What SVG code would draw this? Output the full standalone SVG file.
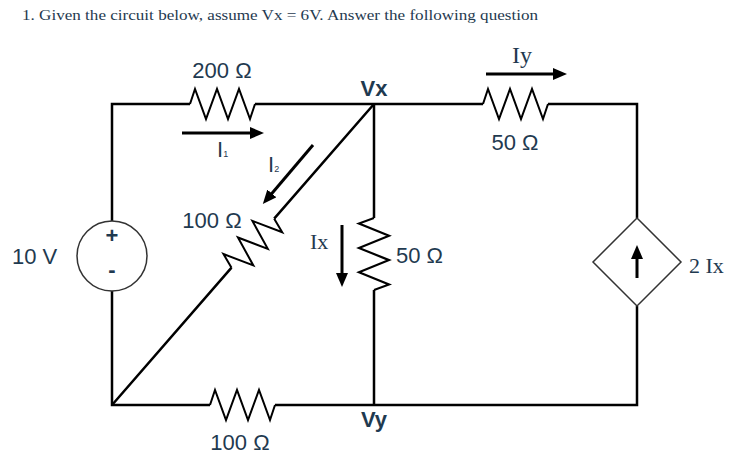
<svg xmlns="http://www.w3.org/2000/svg" width="752" height="470" viewBox="0 0 752 470">
<defs>
<style>
.w{stroke:#000;stroke-width:2.5;fill:none}
.z{stroke:#000;stroke-width:2;fill:none;stroke-linejoin:miter}
.l{font-family:"Liberation Sans",Arial,sans-serif;font-size:22px;fill:#1f3a50}
.s{font-family:"Liberation Serif","Times New Roman",serif;fill:#1f3a50}
.a{stroke:#000;stroke-width:3;fill:none;marker-end:url(#ah)}
</style>
<marker id="ah" markerWidth="14" markerHeight="12" refX="6" refY="6" orient="auto" markerUnits="userSpaceOnUse" viewBox="0 0 14 12"><path d="M0,0 L14,6 L0,12 Z" fill="#000"/></marker>
<path id="zz" d="M0,0 L5,-15 L16,15 L27,-15 L38,15 L49,-15 L60,15 L65,0"/>
</defs>
<rect width="752" height="470" fill="#fff"/>
<text x="22" y="20" class="s" font-size="15" fill="#222" textLength="516" lengthAdjust="spacingAndGlyphs">1. Given the circuit below, assume Vx = 6V. Answer the following question</text>
<g id="connectors">
<path class="w" d="M112,221 V104 H190 M255,104 H483 M548,104 H637 V218 M637,306 V405 H275 M210,405 H112 V291"/>
<path class="w" d="M374,104 V218 M374,290 V405"/>
<g transform="translate(374,104) rotate(131.04)"><path class="w" d="M0,0 H152 M217,0 H399"/></g>
<path class="a" d="M182,133 H256"/>
<path class="a" d="M313,145 L268,198"/>
<path class="a" d="M342,225 V279"/>
<path class="a" d="M486,74 H559"/>
</g>
<g id="R200"><use href="#zz" class="z" transform="translate(190,104)"/><text x="222" y="78" class="l" text-anchor="middle">200 Ω</text></g>
<g id="R50top"><use href="#zz" class="z" transform="translate(483,104)"/><text x="515" y="150" class="l" text-anchor="middle">50 Ω</text></g>
<g id="R100diag"><use href="#zz" class="z" transform="translate(374,104) rotate(131.04) translate(152,0)"/><text x="212" y="228" class="l" text-anchor="middle">100 Ω</text></g>
<g id="R50mid"><use href="#zz" class="z" transform="translate(374,218) rotate(90) scale(1.108,-1)"/><text x="396" y="263" class="l">50 Ω</text></g>
<g id="R100bot"><use href="#zz" class="z" transform="translate(210,405)"/><text x="240" y="450" class="l" text-anchor="middle">100 Ω</text></g>
<g id="V10"><circle cx="112" cy="256" r="35" fill="#fff" stroke="#333" stroke-width="1.5"/><text x="112" y="243" class="l" text-anchor="middle" font-size="20" font-weight="bold">+</text><text x="112" y="277" class="l" text-anchor="middle" font-size="20" font-weight="bold">-</text><text x="12" y="264" class="l">10 V</text></g>
<g id="Idep"><path d="M637,218 L681,262 L637,306 L593,262 Z" fill="#fff" stroke="#333" stroke-width="1.5"/><path class="a" d="M637,278 V253"/><text x="689" y="273" class="s" font-size="22">2 Ix</text></g>
<g id="labels">
<text x="374" y="96" class="l" font-size="14" font-weight="bold" text-anchor="middle" fill="#222">Vx</text>
<text x="374" y="427" class="l" font-size="14" font-weight="bold" text-anchor="middle" fill="#222">Vy</text>
<text x="217" y="157" class="l" font-size="14">I<tspan font-size="9">1</tspan></text>
<text x="268" y="172" class="l" font-size="14">I<tspan font-size="9">2</tspan></text>
<text x="310" y="249" class="s" font-size="22">Ix</text>
<text x="512" y="63" class="s" font-size="24">Iy</text>
</g>
</svg>
